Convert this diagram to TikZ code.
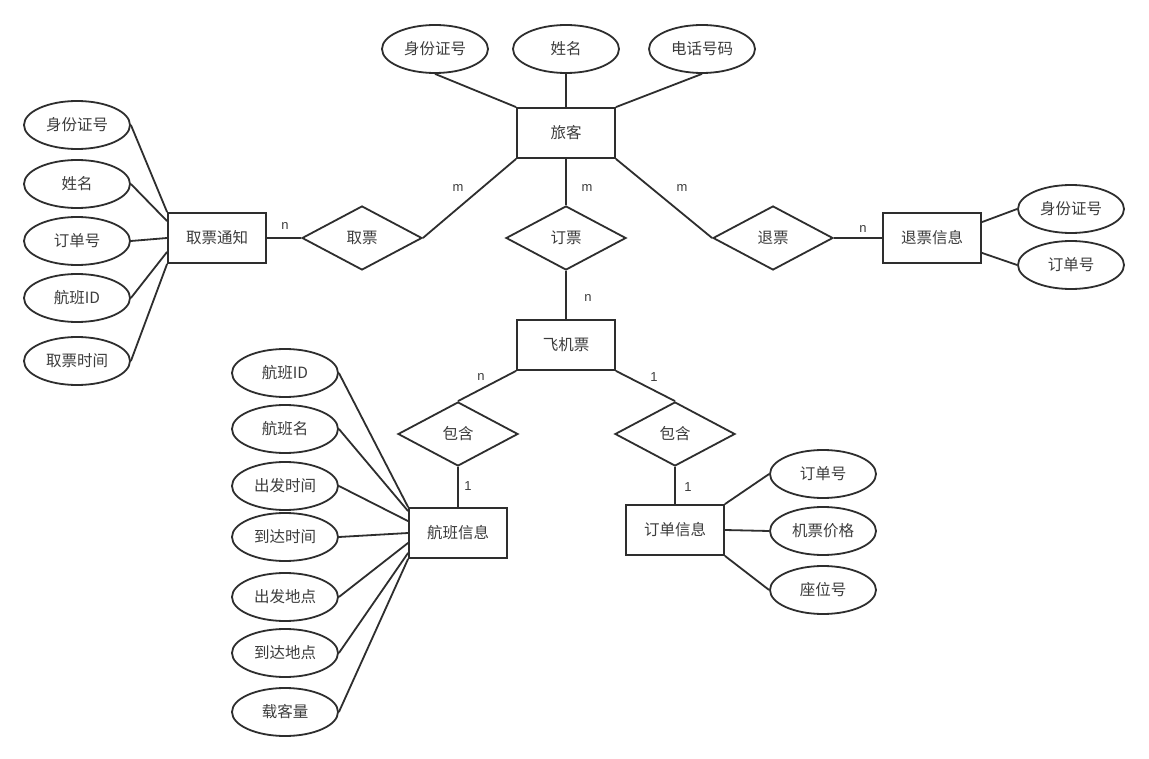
\documentclass[tikz,border=0pt]{standalone}
\usepackage{fontspec}
\newfontfamily\cjk{Noto Sans CJK SC}
\newfontfamily\cardfont{Liberation Sans}
\usetikzlibrary{shapes.geometric}
\definecolor{erline}{HTML}{2E2E2E}
\definecolor{ertext}{HTML}{3C3C3C}
\tikzset{entity/.style={draw=erline, line width=1.8pt, rectangle, minimum width=98pt,
                        minimum height=50pt, inner sep=0pt, fill=white},
        attribute/.style={draw=erline, line width=1.8pt, ellipse, minimum width=106pt,
                          minimum height=48pt, inner sep=0pt, fill=white},
        relation/.style={draw=erline, line width=1.8pt, diamond, aspect=1.875,
                         minimum width=120pt, minimum height=64pt, inner sep=0pt, fill=white},
        card/.style={text=ertext, font=\cardfont\fontsize{13}{15}\selectfont, inner sep=1pt},
        link/.style={draw=erline, line width=1.8pt},
        every node/.append style={text=ertext, font=\cjk\fontsize{15.5}{18}\selectfont},
        }

\begin{document}
\begin{tikzpicture}[x=1pt, y=-1pt]
    \useasboundingbox[fill=white] (0,0) rectangle (1149,759);

    % entities
    \node[entity] (lk) at (566,133) {旅客};
    \node[entity] (qptz) at (217,238) {取票通知};
    \node[entity] (tpxx) at (932,238) {退票信息};
    \node[entity] (fjp) at (566,345) {飞机票};
    \node[entity] (hbxx) at (458,533) {航班信息};
    \node[entity] (ddxx) at (675,530) {订单信息};

    % relationships
    \node[relation] (qp) at (362,238) {取票};
    \node[relation] (dp) at (566,238) {订票};
    \node[relation] (tp) at (773,238) {退票};
    \node[relation] (bh1) at (458,434) {包含};
    \node[relation] (bh2) at (675,434) {包含};

    % attributes of 旅客
    \node[attribute] (lk-id) at (435,49) {身份证号};
    \node[attribute] (lk-name) at (566,49) {姓名};
    \node[attribute] (lk-tel) at (702,49) {电话号码};

    % attributes of 取票通知
    \node[attribute] (qptz-id) at (77,125) {身份证号};
    \node[attribute] (qptz-name) at (77,184) {姓名};
    \node[attribute] (qptz-order) at (77,241) {订单号};
    \node[attribute] (qptz-flight) at (77,298) {航班ID};
    \node[attribute] (qptz-time) at (77,361) {取票时间};

    % attributes of 退票信息
    \node[attribute] (tpxx-id) at (1071,209) {身份证号};
    \node[attribute] (tpxx-order) at (1071,265) {订单号};

    % attributes of 航班信息
    \node[attribute] (hbxx-id) at (285,373) {航班ID};
    \node[attribute] (hbxx-name) at (285,429) {航班名};
    \node[attribute] (hbxx-dtime) at (285,486) {出发时间};
    \node[attribute] (hbxx-atime) at (285,537) {到达时间};
    \node[attribute] (hbxx-dplace) at (285,597) {出发地点};
    \node[attribute] (hbxx-aplace) at (285,653) {到达地点};
    \node[attribute] (hbxx-cap) at (285,712) {载客量};

    % attributes of 订单信息
    \node[attribute] (ddxx-order) at (823,474) {订单号};
    \node[attribute] (ddxx-price) at (823,531) {机票价格};
    \node[attribute] (ddxx-seat) at (823,590) {座位号};

    % attribute lines
    \draw[link] (lk-id.south) -- (lk.north west);
    \draw[link] (lk-name.south) -- (lk.north);
    \draw[link] (lk-tel.south) -- (lk.north east);

    \draw[link] (qptz-id.east) -- (qptz.north west);
    \draw[link] (qptz-name.east) -- ([yshift=-9pt]qptz.north west);
    \draw[link] (qptz-order.east) -- (qptz.west);
    \draw[link] (qptz-flight.east) -- ([yshift=12pt]qptz.south west);
    \draw[link] (qptz-time.east) -- (qptz.south west);

    \draw[link] ([yshift=-10pt]tpxx.north east) -- (tpxx-id.west);
    \draw[link] ([yshift=11pt]tpxx.south east) -- (tpxx-order.west);

    \draw[link] (hbxx-id.east) -- (hbxx.north west);
    \draw[link] (hbxx-name.east) -- ([yshift=-4pt]hbxx.north west);
    \draw[link] (hbxx-dtime.east) -- ([yshift=-14pt]hbxx.north west);
    \draw[link] (hbxx-atime.east) -- (hbxx.west);
    \draw[link] (hbxx-dplace.east) -- ([yshift=16pt]hbxx.south west);
    \draw[link] (hbxx-aplace.east) -- ([yshift=6pt]hbxx.south west);
    \draw[link] (hbxx-cap.east) -- (hbxx.south west);

    \draw[link] (ddxx.north east) -- (ddxx-order.west);
    \draw[link] (ddxx.east) -- (ddxx-price.west);
    \draw[link] (ddxx.south east) -- (ddxx-seat.west);

    % relationship lines
    \draw[link] (lk.south west) -- (qp.east);
    \draw[link] (lk.south) -- (dp.north);
    \draw[link] (lk.south east) -- (tp.west);
    \draw[link] (qptz.east) -- (qp.west);
    \draw[link] (tp.east) -- (tpxx.west);
    \draw[link] (dp.south) -- (fjp.north);
    \draw[link] (fjp.south west) -- (bh1.north);
    \draw[link] (fjp.south east) -- (bh2.north);
    \draw[link] (bh1.south) -- (hbxx.north);
    \draw[link] (bh2.south) -- (ddxx.north);

    % cardinalities
    \node[card] (c-lk-qp) at (458,188) {m};
    \node[card] (c-lk-dp) at (587,188) {m};
    \node[card] (c-lk-tp) at (682,188) {m};
    \node[card] (c-qptz-qp) at (285,226) {n};
    \node[card] (c-tpxx-tp) at (863,229) {n};
    \node[card] (c-fjp-dp) at (588,298) {n};
    \node[card] (c-fjp-bh1) at (481,377) {n};
    \node[card] (c-fjp-bh2) at (654,377) {1};
    \node[card] (c-hbxx-bh1) at (468,486) {1};
    \node[card] (c-ddxx-bh2) at (688,487) {1};

\end{tikzpicture}
\end{document}
